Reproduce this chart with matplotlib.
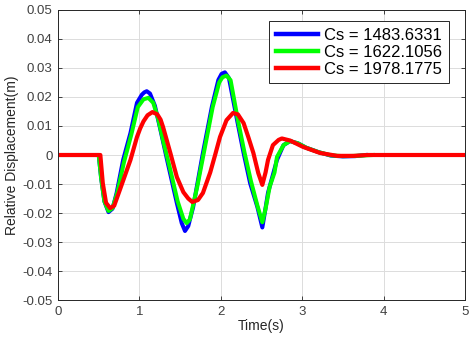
import numpy as np
import matplotlib
matplotlib.use("Agg")
import matplotlib.pyplot as plt

plt.rcParams["font.family"] = ["Liberation Sans", "DejaVu Sans"]

# relative displacement response for three shear wave speeds
t_blue = [0, 0.50, 0.53, 0.57, 0.62, 0.67, 0.72, 0.80, 0.89, 0.97, 1.03, 1.06,
          1.09, 1.13, 1.19, 1.25, 1.34, 1.46, 1.52, 1.56, 1.60, 1.66, 1.78, 1.89,
          1.97, 2.01, 2.05, 2.10, 2.20, 2.28, 2.36, 2.45, 2.51, 2.54, 2.58, 2.69,
          2.77, 2.85, 2.95, 3.05, 3.20, 3.35, 3.50, 3.65, 3.78]
d_blue = [0, 0, -0.008, -0.016, -0.0197, -0.0185, -0.0131, -0.0017, 0.0076,
          0.018, 0.0208, 0.0216, 0.022, 0.0212, 0.017, 0.0097, -0.0017, -0.0166,
          -0.0235, -0.0262, -0.0245, -0.018, 0.0007, 0.0166, 0.0259, 0.028, 0.0285,
          0.0265, 0.012, 0.0007, -0.0097, -0.018, -0.025, -0.020, -0.013, -0.0017,
          0.0034, 0.0048, 0.004, 0.0025, 0.001, -0.0002, -0.0005, -0.0004, 0]

t_green = [0, 0.50, 0.53, 0.57, 0.62, 0.67, 0.73, 0.81, 0.90, 0.98, 1.05, 1.11,
           1.17, 1.23, 1.30, 1.37, 1.47, 1.54, 1.58, 1.62, 1.71, 1.80, 1.90, 1.98,
           2.02, 2.07, 2.12, 2.21, 2.29, 2.37, 2.45, 2.51, 2.55, 2.60, 2.66, 2.69,
           2.77, 2.85, 2.95, 3.05, 3.20, 3.35, 3.50, 3.65, 3.87]
d_green = [0, 0, -0.008, -0.016, -0.0193, -0.0183, -0.0128, -0.0025, 0.007,
           0.0165, 0.0192, 0.0197, 0.018, 0.0125, 0.004, -0.004, -0.016, -0.022,
           -0.0235, -0.0222, -0.011, 0.002, 0.0165, 0.025, 0.0268, 0.0274, 0.0258,
           0.012, 0.001, -0.009, -0.0175, -0.0232, -0.0185, -0.011, -0.006, -0.0007,
           0.0034, 0.0048, 0.004, 0.0025, 0.001, -0.0001, -0.0004, -0.0003, 0]

t_red = [0, 0.52, 0.55, 0.59, 0.64, 0.69, 0.76, 0.89, 0.97, 1.01, 1.05, 1.10,
         1.16, 1.22, 1.26, 1.29, 1.38, 1.46, 1.54, 1.60, 1.65, 1.72, 1.78, 1.87,
         1.93, 1.99, 2.07, 2.15, 2.21, 2.28, 2.34, 2.40, 2.46, 2.51, 2.55, 2.58,
         2.64, 2.71, 2.75, 2.85, 3.01, 3.22, 3.43, 3.63, 3.80, 5.0]
d_red = [0, 0, -0.0097, -0.0165, -0.0183, -0.0175, -0.012, -0.0017, 0.0062,
         0.0092, 0.0116, 0.0137, 0.0148, 0.0140, 0.0122, 0.0097, 0.0007, -0.0076,
         -0.0128, -0.015, -0.0162, -0.0155, -0.0131, -0.006, 0.0, 0.0062, 0.012,
         0.0145, 0.014, 0.011, 0.006, 0.0007, -0.0062, -0.0103, -0.006, -0.0017,
         0.0034, 0.0052, 0.0057, 0.005, 0.0028, 0.0007, -0.0003, -0.0003, 0, 0]

labels = ["Cs = 1483.6331", "Cs = 1622.1056", "Cs = 1978.1775"]
colors = ["#0000ff", "#00ff00", "#ff0000"]

x_ticks = [0, 1, 2, 3, 4, 5]
y_ticks = [-0.05, -0.04, -0.03, -0.02, -0.01, 0, 0.01, 0.02, 0.03, 0.04, 0.05]
y_ticklabels = ["-0.05", "-0.04", "-0.03", "-0.02", "-0.01", "0",
                "0.01", "0.02", "0.03", "0.04", "0.05"]

fig = plt.figure(figsize=(4.74, 3.41), dpi=100)
ax = fig.add_axes([0.1224, 0.1202, 0.8586, 0.8505])

ax.plot(t_blue, d_blue, color=colors[0], lw=2.9, label=labels[0])
ax.plot(t_green, d_green, color=colors[1], lw=2.9, label=labels[1])
ax.plot(t_red, d_red, color=colors[2], lw=3.0, label=labels[2])

ax.set_xlim(0, 5)
ax.set_ylim(-0.05, 0.05)
ax.set_xticks(x_ticks)
ax.set_xticklabels([str(v) for v in x_ticks])
ax.set_yticks(y_ticks)
ax.set_yticklabels(y_ticklabels)
ax.tick_params(direction="in", top=True, right=True, length=3, width=0.6,
               labelsize=9.5, colors="#262626", labelcolor="#404040", pad=4)
ax.grid(True, color="#dcdcdc", lw=0.7)
ax.set_axisbelow(True)
for s in ax.spines.values():
    s.set_color("#262626")
    s.set_linewidth(0.7)

ax.set_xlabel("Time(s)", fontsize=10, color="#262626", labelpad=1)
ax.set_ylabel("Relative Displacement(m)", fontsize=10, color="#262626", labelpad=2)

leg = ax.legend(loc="upper right", bbox_to_anchor=(0.9607, 0.962), borderaxespad=0,
                fontsize=12, handlelength=2.5, handletextpad=0.4, labelspacing=0.12,
                borderpad=0.4, fancybox=False, framealpha=1)
leg.get_frame().set_edgecolor("#262626")
leg.get_frame().set_linewidth(0.7)
for line in leg.get_lines():
    line.set_linewidth(3.2)

fig.savefig("out.png", dpi=100)
